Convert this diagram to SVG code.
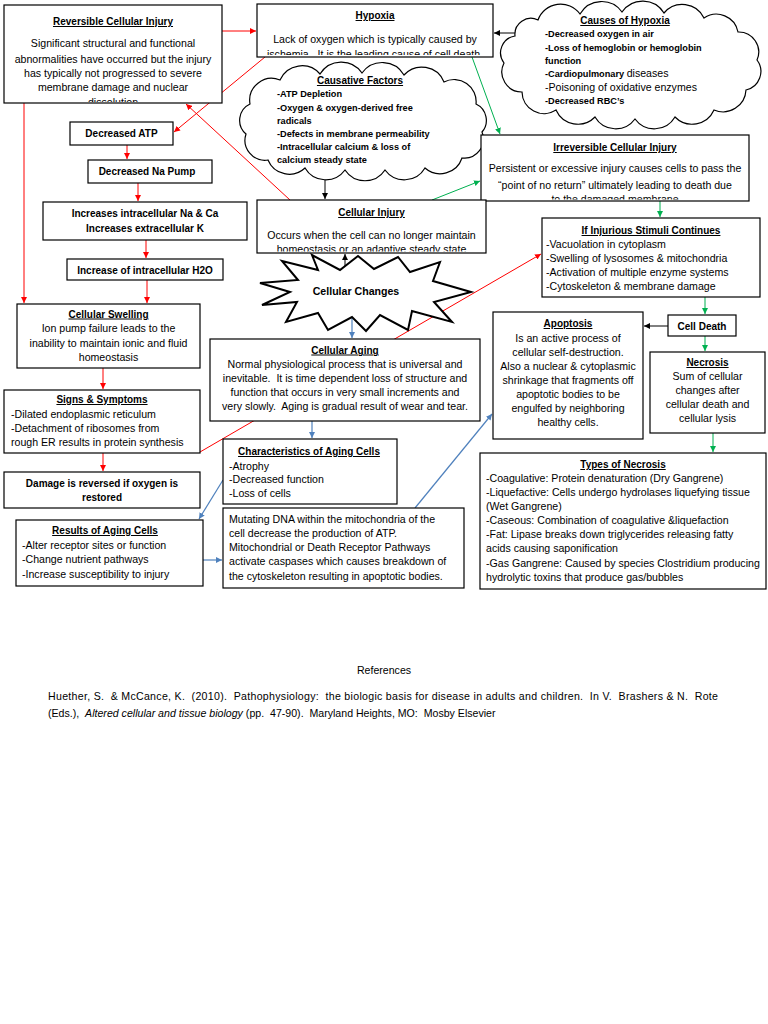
<svg xmlns="http://www.w3.org/2000/svg" width="768" height="1024" viewBox="0 0 768 1024">
<style>
text{font-family:"Liberation Sans",Arial,sans-serif;fill:#000;font-size:10.6px}
.box{fill:#fff;stroke:#000;stroke-width:1.2}
.cloud{fill:#fff;stroke:#000;stroke-width:1.2}
.ti{font-weight:bold;font-size:10px;text-decoration:underline;text-anchor:middle}
.c{text-anchor:middle}
.b{font-weight:bold;font-size:10px}
.cl{font-weight:bold;font-size:9.2px}
.red{stroke:#ff0000;stroke-width:1;fill:none;marker-end:url(#aR)}
.grn{stroke:#00b050;stroke-width:1;fill:none;marker-end:url(#aG)}
.blu{stroke:#4f81bd;stroke-width:1.2;fill:none;marker-end:url(#aB)}
.blk{stroke:#000;stroke-width:1;fill:none;marker-end:url(#aK)}
</style>
<defs>
<marker id="aR" viewBox="0 0 8 8" refX="8" refY="4" markerWidth="6" markerHeight="6" markerUnits="userSpaceOnUse" orient="auto"><path d="M0,0 L8,4 L0,8 z" fill="#ff0000"/></marker>
<marker id="aG" viewBox="0 0 8 8" refX="8" refY="4" markerWidth="6" markerHeight="6" markerUnits="userSpaceOnUse" orient="auto"><path d="M0,0 L8,4 L0,8 z" fill="#00b050"/></marker>
<marker id="aB" viewBox="0 0 8 8" refX="8" refY="4" markerWidth="6" markerHeight="6" markerUnits="userSpaceOnUse" orient="auto"><path d="M0,0 L8,4 L0,8 z" fill="#4f81bd"/></marker>
<marker id="aK" viewBox="0 0 8 8" refX="8" refY="4" markerWidth="6" markerHeight="6" markerUnits="userSpaceOnUse" orient="auto"><path d="M0,0 L8,4 L0,8 z" fill="#000"/></marker>
<clipPath id="cRev"><rect x="4" y="5" width="218" height="97"/></clipPath>
<clipPath id="cHyp"><rect x="257" y="4" width="236" height="51"/></clipPath>
<clipPath id="cIrr"><rect x="481" y="135" width="268" height="64.5"/></clipPath>
<clipPath id="cInj"><rect x="257" y="200" width="229" height="51.5"/></clipPath>
</defs>
<rect width="768" height="1024" fill="#fff"/>

<g id="connectors">
<line class="red" x1="222" y1="31" x2="256" y2="31"/>
<line class="red" x1="265" y1="57" x2="174" y2="132"/>
<line class="red" x1="290" y1="200" x2="186" y2="104"/>
<line class="red" x1="24" y1="103" x2="24" y2="303"/>
<line class="red" x1="127" y1="145" x2="127" y2="159"/>
<line class="red" x1="138" y1="183" x2="138" y2="201"/>
<line class="red" x1="146" y1="240" x2="146" y2="258"/>
<line class="red" x1="147" y1="280" x2="147" y2="303"/>
<line class="red" x1="103" y1="368" x2="103" y2="389"/>
<line class="red" x1="103" y1="453" x2="103" y2="471"/>
<line class="red" x1="200" y1="452" x2="541" y2="254"/>
<line class="grn" x1="472" y1="57" x2="500" y2="134"/>
<line class="grn" x1="432" y1="200" x2="480" y2="181"/>
<line class="grn" x1="660" y1="201" x2="660" y2="217"/>
<line class="grn" x1="705" y1="297" x2="705" y2="314"/>
<line class="grn" x1="705" y1="336" x2="705" y2="351"/>
<line class="grn" x1="713" y1="433" x2="713" y2="452"/>
<line class="blk" x1="516" y1="33" x2="494" y2="33"/>
<line class="blk" x1="325" y1="176" x2="325" y2="199"/>
<line class="blk" x1="345" y1="270" x2="345" y2="254"/>
<line class="blk" x1="668" y1="326" x2="644" y2="326"/>
<line class="blu" x1="352" y1="316" x2="352" y2="338"/>
<line class="blu" x1="312" y1="421" x2="312" y2="438"/>
<line class="blu" x1="223" y1="480" x2="199" y2="519"/>
<line class="blu" x1="203" y1="560" x2="222" y2="560"/>
<line class="blu" x1="415" y1="508" x2="492" y2="414"/>
</g>

<g id="reversible">
<rect class="box" x="4" y="5" width="218" height="98"/>
<text class="ti" x="113" y="25">Reversible Cellular Injury</text>
<g clip-path="url(#cRev)">
<text class="c" x="113" y="47" font-size="10.5">Significant structural and functional</text>
<text class="c" x="113" y="63" font-size="10.5">abnormalities have occurred but the injury</text>
<text class="c" x="113" y="77" font-size="10.5">has typically not progressed to severe</text>
<text class="c" x="113" y="91" font-size="10.5">membrane damage and nuclear</text>
<text class="c" x="113" y="106" font-size="10.5">dissolution</text>
</g>
</g>

<g id="hypoxia">
<rect class="box" x="257" y="4" width="236" height="53"/>
<text class="ti" x="375" y="19">Hypoxia</text>
<g clip-path="url(#cHyp)">
<text class="c" x="375" y="43" font-size="10.5">Lack of oxygen which is typically caused by</text>
<text class="c" x="375" y="57.5" font-size="10.5" xml:space="preserve">ischemia.  It is the leading cause of cell death.</text>
</g>
</g>

<g id="causes-of-hypoxia">
<path class="cloud" d="M538,20 A24,24 0 0 1 580,14 A25,25 0 0 1 622,12 A25,25 0 0 1 664,13 A24,24 0 0 1 704,18 A22,22 0 0 1 738,32 A20,20 0 0 1 757,60 A19,19 0 0 1 746,90 A23,23 0 0 1 714,110 A24,24 0 0 1 675,117 A24,24 0 0 1 635,119 A24,24 0 0 1 595,117 A24,24 0 0 1 556,110 A22,22 0 0 1 522,92 A20,20 0 0 1 504,63 A17,17 0 0 1 515,36 A16,16 0 0 1 538,20 Z"/>
<text class="ti" x="625" y="24" font-size="9.5">Causes of Hypoxia</text>
<text class="cl" x="545" y="36.5">-Decreased oxygen in air</text>
<text class="cl" x="545" y="50.5">-Loss of hemoglobin or hemoglobin</text>
<text class="cl" x="545" y="63.5">function</text>
<text class="cl" x="545" y="76.5">-Cardiopulmonary <tspan font-weight="normal" font-size="10.6">diseases</tspan></text>
<text x="545" y="91" font-size="10.7">-Poisoning of oxidative enzymes</text>
<text class="cl" x="545" y="103.5">-Decreased RBC’s</text>
</g>

<g id="causative-factors">
<path class="cloud" d="M280,80 A24,24 0 0 1 320,74 A25,25 0 0 1 362,73 A25,25 0 0 1 404,75 A24,24 0 0 1 444,82 A22,22 0 0 1 476,104 A18,18 0 0 1 482,132 A19,19 0 0 1 462,158 A23,23 0 0 1 425,168 A24,24 0 0 1 385,170 A24,24 0 0 1 345,170 A24,24 0 0 1 305,168 A23,23 0 0 1 268,160 A20,20 0 0 1 246,134 A18,18 0 0 1 250,104 A22,22 0 0 1 280,80 Z"/>
<text class="ti" x="360" y="84" font-size="9.5">Causative Factors</text>
<text class="cl" x="277" y="96.5">-ATP Depletion</text>
<text class="cl" x="277" y="110.5">-Oxygen &amp; oxygen-derived free</text>
<text class="cl" x="277" y="123.5">radicals</text>
<text class="cl" x="277" y="136.5">-Defects in membrane permeability</text>
<text class="cl" x="277" y="149.5">-Intracellular calcium &amp; loss of</text>
<text class="cl" x="277" y="162.5">calcium steady state</text>
</g>

<g id="decreased-atp">
<rect class="box" x="70" y="122" width="103" height="23"/>
<text class="b c" x="121.5" y="137">Decreased ATP</text>
</g>
<g id="decreased-na-pump">
<rect class="box" x="88" y="160" width="124" height="23"/>
<text class="b c" x="147" y="175">Decreased Na Pump</text>
</g>
<g id="increases-intracellular">
<rect class="box" x="43" y="202" width="204" height="38"/>
<text class="b c" x="145" y="216.5">Increases intracellular Na &amp; Ca</text>
<text class="b c" x="145" y="231.5">Increases extracellular K</text>
</g>
<g id="increase-h2o">
<rect class="box" x="67" y="259" width="156" height="21"/>
<text class="b c" x="145" y="273.5">Increase of intracellular H2O</text>
</g>

<g id="cellular-swelling">
<rect class="box" x="17" y="304" width="183" height="64"/>
<text class="ti" x="108.5" y="317.5">Cellular Swelling</text>
<text class="c" x="108.5" y="332" font-size="10.8">Ion pump failure leads to the</text>
<text class="c" x="108.5" y="346.5" font-size="10.8">inability to maintain ionic and fluid</text>
<text class="c" x="108.5" y="361" font-size="10.8">homeostasis</text>
</g>

<g id="signs-symptoms">
<rect class="box" x="4" y="390" width="196" height="63"/>
<text class="ti" x="102" y="403">Signs &amp; Symptoms</text>
<text x="11" y="417.5" font-size="10.5">-Dilated endoplasmic reticulum</text>
<text x="11" y="431.5" font-size="10.5">-Detachment of ribosomes from</text>
<text x="11" y="446" font-size="10.5">rough ER results in protein synthesis</text>
</g>

<g id="damage-reversed">
<rect class="box" x="4" y="472" width="196" height="36"/>
<text class="b c" x="102" y="487">Damage is reversed if oxygen is</text>
<text class="b c" x="102" y="501">restored</text>
</g>

<g id="results-aging">
<rect class="box" x="16" y="520" width="187" height="66"/>
<text class="ti" x="105" y="534">Results of Aging Cells</text>
<text x="22" y="549">-Alter receptor sites or function</text>
<text x="22" y="563">-Change nutrient pathways</text>
<text x="22" y="578">-Increase susceptibility to injury</text>
</g>

<g id="irreversible">
<rect class="box" x="481" y="135" width="268" height="66"/>
<text class="ti" x="615" y="151">Irreversible Cellular Injury</text>
<g clip-path="url(#cIrr)">
<text class="c" x="615" y="172" font-size="9.5">Persistent or excessive injury causes cells to pass the</text>
<text class="c" x="615" y="189" font-size="9.5">“point of no return” ultimately leading to death due</text>
<text class="c" x="615" y="203" font-size="9.5">to the damaged membrane</text>
</g>
</g>

<g id="cellular-injury">
<rect class="box" x="257" y="200" width="229" height="53"/>
<text class="ti" x="371.5" y="216">Cellular Injury</text>
<g clip-path="url(#cInj)">
<text class="c" x="371.5" y="239" font-size="11">Occurs when the cell can no longer maintain</text>
<text class="c" x="371.5" y="253" font-size="11">homeostasis or an adaptive steady state</text>
</g>
</g>

<g id="cellular-changes">
<path d="M260,283 L298,280 L282,261 L318,270 L312,255 L340,270 L358,256 L374,269 L398,257 L410,272 L440,262 L433,281 L471,292 L434,302 L452,322 L412,311 L408,330 L380,315 L366,331 L352,317 L328,330 L318,313 L286,322 L297,302 L262,305 L290,292 Z" fill="#fff" stroke="#000" stroke-width="2" stroke-linejoin="miter"/>
<text class="c" x="356" y="295" font-size="11.5" font-weight="bold">Cellular Changes</text>
</g>

<g id="if-injurious">
<rect class="box" x="542" y="218" width="218" height="79"/>
<text class="ti" x="651" y="234">If Injurious Stimuli Continues</text>
<text x="546" y="248" font-size="10.8">-Vacuolation in cytoplasm</text>
<text x="546" y="262" font-size="10.8">-Swelling of lysosomes &amp; mitochondria</text>
<text x="546" y="276" font-size="10.8">-Activation of multiple enzyme systems</text>
<text x="546" y="290" font-size="10.8">-Cytoskeleton &amp; membrane damage</text>
</g>

<g id="cell-death">
<rect class="box" x="668" y="315" width="68" height="21"/>
<text class="b c" x="702" y="329.5">Cell Death</text>
</g>

<g id="apoptosis">
<rect class="box" x="493" y="312" width="150" height="127"/>
<text class="ti" x="568" y="327">Apoptosis</text>
<text class="c" x="568" y="341.5">Is an active process of</text>
<text class="c" x="568" y="355.5">cellular self-destruction.</text>
<text class="c" x="568" y="369.5">Also a nuclear &amp; cytoplasmic</text>
<text class="c" x="568" y="383.5">shrinkage that fragments off</text>
<text class="c" x="568" y="398">apoptotic bodies to be</text>
<text class="c" x="568" y="412">engulfed by neighboring</text>
<text class="c" x="568" y="426">healthy cells.</text>
</g>

<g id="necrosis">
<rect class="box" x="650" y="352" width="115" height="81"/>
<text class="ti" x="707.5" y="366">Necrosis</text>
<text class="c" x="707.5" y="380" font-size="11">Sum of cellular</text>
<text class="c" x="707.5" y="394" font-size="11">changes after</text>
<text class="c" x="707.5" y="408" font-size="11">cellular death and</text>
<text class="c" x="707.5" y="422" font-size="11">cellular lysis</text>
</g>

<g id="types-necrosis">
<rect class="box" x="480" y="453" width="286" height="136"/>
<text class="ti" x="623" y="468">Types of Necrosis</text>
<text x="486" y="482">-Coagulative: Protein denaturation (Dry Gangrene)</text>
<text x="486" y="496">-Liquefactive: Cells undergo hydrolases liquefying tissue</text>
<text x="486" y="510">(Wet Gangrene)</text>
<text x="486" y="524">-Caseous: Combination of coagulative &amp;liquefaction</text>
<text x="486" y="538">-Fat: Lipase breaks down triglycerides releasing fatty</text>
<text x="486" y="552">acids causing saponification</text>
<text x="486" y="567">-Gas Gangrene: Caused by species Clostridium producing</text>
<text x="486" y="581">hydrolytic toxins that produce gas/bubbles</text>
</g>

<g id="cellular-aging">
<rect class="box" x="210" y="339" width="270" height="82"/>
<text class="ti" x="345" y="353.5">Cellular Aging</text>
<text class="c" x="345" y="367.5">Normal physiological process that is universal and</text>
<text class="c" x="345" y="382" xml:space="preserve">inevitable.  It is time dependent loss of structure and</text>
<text class="c" x="345" y="396">function that occurs in very small increments and</text>
<text class="c" x="345" y="410" xml:space="preserve">very slowly.  Aging is gradual result of wear and tear.</text>
</g>

<g id="characteristics-aging">
<rect class="box" x="223" y="439" width="174" height="65"/>
<text class="ti" x="309" y="455">Characteristics of Aging Cells</text>
<text x="229" y="469.5">-Atrophy</text>
<text x="229" y="483">-Decreased function</text>
<text x="229" y="497">-Loss of cells</text>
</g>

<g id="mutating-dna">
<rect class="box" x="223" y="508" width="241" height="80"/>
<text x="229" y="523">Mutating DNA within the mitochondria of the</text>
<text x="229" y="537">cell decrease the production of ATP.</text>
<text x="229" y="551">Mitochondrial or Death Receptor Pathways</text>
<text x="229" y="565">activate caspases which causes breakdown of</text>
<text x="229" y="580">the cytoskeleton resulting in apoptotic bodies.</text>
</g>

<g id="references">
<text class="c" x="384" y="674" font-size="10.4">References</text>
<text x="48" y="700" font-size="10.4" textLength="670" lengthAdjust="spacing" xml:space="preserve">Huether, S.  &amp; McCance, K.  (2010).  Pathophysiology:  the biologic basis for disease in adults and children.  In V.  Brashers &amp; N.  Rote</text>
<text x="48" y="717" font-size="9.9" xml:space="preserve">(Eds.),  <tspan font-style="italic">Altered cellular and tissue biology</tspan> (pp.  47-90).  Maryland Heights, MO:  Mosby Elsevier</text>
</g>
</svg>
